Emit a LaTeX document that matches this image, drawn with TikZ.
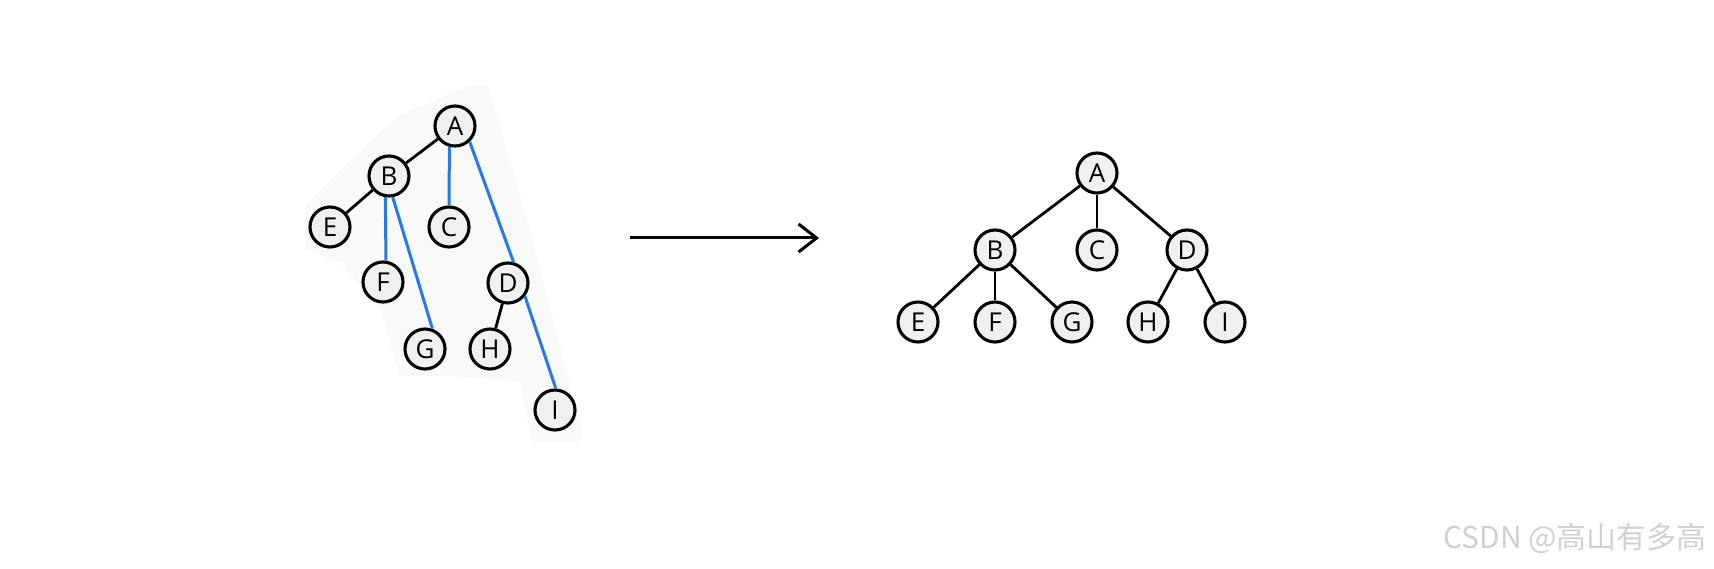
\documentclass[tikz,border=0pt]{standalone}
\usepackage{fontspec}
\setmainfont{Open Sans}
\newfontfamily\cjkfont{Noto Sans CJK SC}
\usetikzlibrary{arrows.meta}
\definecolor{nodefill}{RGB}{240,240,240}
\definecolor{hiblue}{RGB}{40,120,232}
\definecolor{wmgray}{RGB}{208,208,208}
\definecolor{shadegray}{RGB}{249,249,249}
\begin{document}
\begin{tikzpicture}[x=1pt,y=-1pt,
  tn/.style={circle,draw=black,line width=3.1pt,fill=nodefill,minimum size=40pt,inner sep=0pt,font=\fontsize{26}{26}\selectfont},
  bk/.style={line width=2.8pt,black},
  bl/.style={line width=3pt,hiblue},
  arr/.style={line width=3pt,black,-{Straight Barb[length=18pt,width=28pt]}}]
\useasboundingbox (0,0) rectangle (1714,569);
% faint background behind the left tree
\fill[shadegray] (400,115) -- (470,85) -- (488,85) -- (530,230) -- (582,430) -- (580,442) -- (532,442) -- (520,382) -- (450,376) -- (400,376) -- (380,310) -- (340,262) -- (305,250) -- (305,205) -- (350,160) -- cycle;
% left tree
\node[tn] (lA) at (455,126) {A};
\node[tn] (lB) at (389,176) {B};
\node[tn] (lE) at (330,227) {E};
\node[tn] (lC) at (449,227) {C};
\node[tn] (lF) at (383,282) {F};
\node[tn] (lD) at (508,283) {D};
\node[tn] (lG) at (425,349) {G};
\node[tn] (lH) at (490,349) {H};
\node[tn] (lI) at (555,410) {I};
\draw[bk] (lA) -- (lB);
\draw[bk] (lB) -- (lE);
\draw[bk] (lD) -- (lH);
\draw[bl] (lA.-105) -- (lC.north);
\draw[bl] (lB.-100) -- (lF.82);
\draw[bl] (lB.-80) -- (lG.70);
\draw[bl] (lA.-47) -- (lD.75);
\draw[bl] (lD.-38) -- (lI.88);
% arrow
\coordinate (arS) at (630,238);
\coordinate (arE) at (819,238);
\draw[arr] (arS) -- (arE);
% right tree
\node[tn] (rA) at (1097,173) {A};
\node[tn] (rB) at (995,250) {B};
\node[tn] (rC) at (1097,250) {C};
\node[tn] (rD) at (1187,250) {D};
\node[tn] (rE) at (918,322) {E};
\node[tn] (rF) at (995,322) {F};
\node[tn] (rG) at (1072,322) {G};
\node[tn] (rH) at (1148,322) {H};
\node[tn] (rI) at (1225,322) {I};
\draw[bk] (rA) -- (rB);
\draw[bk] (rA) -- (rC);
\draw[bk] (rA) -- (rD);
\draw[bk] (rB) -- (rE);
\draw[bk] (rB) -- (rF);
\draw[bk] (rB) -- (rG);
\draw[bk] (rD) -- (rH);
\draw[bk] (rD) -- (rI);
% watermark
\node[anchor=base east,inner sep=0pt,text=wmgray,font=\cjkfont\fontsize{30}{30}\selectfont] (wm) at (1707,548) {CSDN @高山有多高};
\end{tikzpicture}
\end{document}
